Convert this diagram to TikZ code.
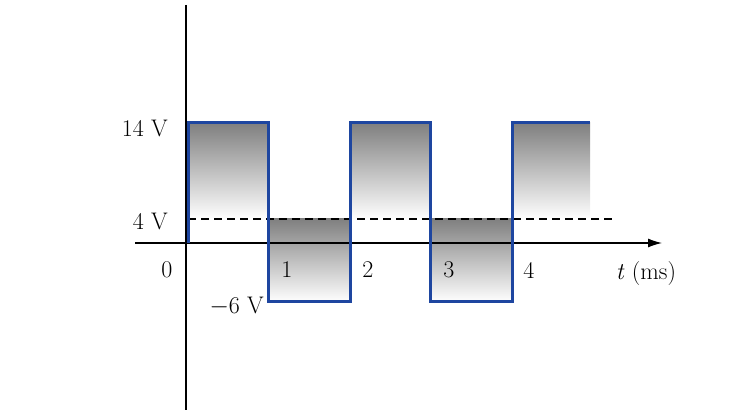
\documentclass[tikz,border=0pt]{standalone}
\usetikzlibrary{arrows.meta}
\definecolor{wave}{RGB}{30,70,160}
\definecolor{shade}{RGB}{211,211,211}
\tikzset{lbl/.style={font=\fontsize{24}{28}\selectfont, inner sep=0pt},
  wavepath/.style={draw=wave, line width=3pt, line join=miter},
  ax/.style={line width=1.2pt}}
\begin{document}
\begin{tikzpicture}[x=1pt,y=-1pt]
\useasboundingbox (0,0) rectangle (750,411);
\foreach \a/\b in {188/268,350/430,512/590}
  \fill[shade] (\a,123) rectangle (\b,219);
\foreach \a/\b in {268/350,430/512}
  \fill[shade] (\a,219) rectangle (\b,302);
\coordinate (ytop) at (186,5);
\coordinate (ybot) at (186,410);
\coordinate (xl) at (135,243);
\coordinate (xr) at (662,243);
\draw[ax] (ytop) -- (ybot);
\draw[ax,-{Latex[length=14pt,width=9pt]}] (xl) -- (xr);
\coordinate (dl) at (188,219);
\coordinate (dr) at (612,219);
\draw[line width=1.2pt, dash pattern=on 8pt off 5pt] (dl) -- (dr);
\draw[wavepath] (188,243) -- (188,123) -- (268,123) -- (268,302) -- (350,302) -- (350,123)
  -- (430,123) -- (430,302) -- (512,302) -- (512,123) -- (590,123);
\node[lbl, anchor=east] (l14) at (168,128) {14 V};
\node[lbl, anchor=east] (l4) at (168,221) {4 V};
\node[lbl, anchor=east] (l6) at (264,306) {$-$6 V};
\node[lbl] (t0) at (167,270) {0};
\node[lbl] (t1) at (287,270) {1};
\node[lbl] (t2) at (368,270) {2};
\node[lbl] (t3) at (449,270) {3};
\node[lbl] (t4) at (529,270) {4};
\node[lbl] (tt) at (646,274) {\textit{t} (ms)};
\end{tikzpicture}
\end{document}
